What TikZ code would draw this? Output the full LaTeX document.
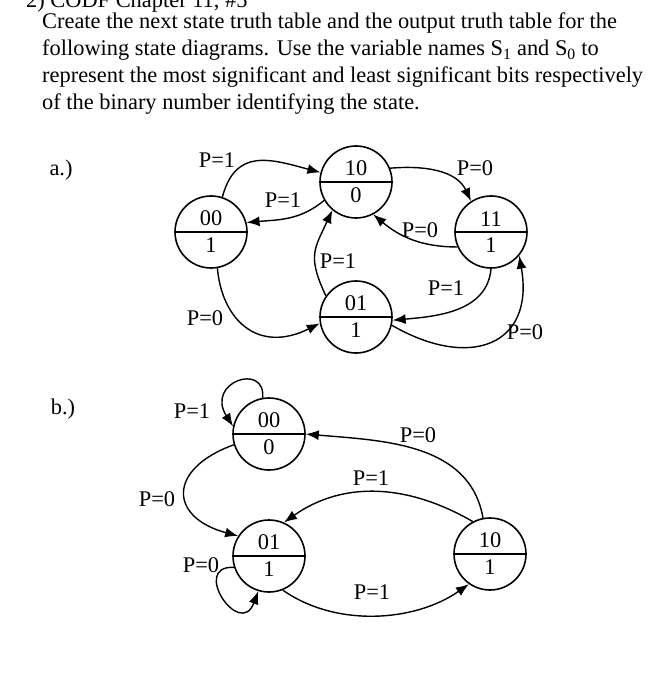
\documentclass[tikz,border=0pt]{standalone}
\usepackage{fontspec}
\setmainfont{Liberation Serif}
\usetikzlibrary{shapes.multipart,arrows.meta}

\begin{document}
\begin{tikzpicture}[x=1pt,y=1pt,font=\fontsize{22.4}{27}\selectfont,
  state/.style={circle split,draw,line width=1.6pt,minimum size=72pt,inner sep=5pt},
  trans/.style={line width=1.4pt,-{Latex[length=13pt,width=10pt]}},
  lbl/.style={inner sep=0pt}]
\fill[white] (0,0) rectangle (663,-700);
\useasboundingbox (0,0) rectangle (663,-700);

% question text
\node[lbl,anchor=base west] (hdr) at (26,-8) {2) CODF Chapter 11, \#5};
\node[lbl,anchor=base west] (l1) at (42,-29) {Create the next state truth table and the output truth table for the};
\node[lbl,anchor=base west] (l2) at (42,-56) {following state diagrams. Use the variable names S\textsubscript{1} and S\textsubscript{0} to};
\node[lbl,anchor=base west] (l3) at (42,-83) {represent the most significant and least significant bits respectively};
\node[lbl,anchor=base west] (l4) at (42,-110) {of the binary number identifying the state.};

% a.)
\node[lbl] (pa) at (61,-170) {a.)};
\node[state] (a00) at (211,-232) {00 \nodepart{lower} 1};
\node[state] (a10) at (356,-182) {10 \nodepart{lower} 0};
\node[state] (a11) at (491,-232) {11 \nodepart{lower} 1};
\node[state] (a01) at (356,-317) {01 \nodepart{lower} 1};

\draw[trans] (a00.72) to[out=75,in=165,looseness=1.3] (a10.165);
\draw[trans] (a10.210) to[out=220,in=5] (a00.15);
\draw[trans] (a00.280) .. controls (222,-320) and (258,-354) .. (a01.190);
\draw[trans] (a01.145) to[out=115,in=245,looseness=1.3] (a10.230);
\draw[trans] (a10.22) to[out=5,in=115] (a11.123);
\draw[trans] (a11.204) to[out=180,in=-40] (a10.298);
\draw[trans] (a11.270) to[out=-95,in=5] (a01.-5);
\draw[trans] (a01.-13) to[out=-30,in=-80,looseness=1.6] (a11.-40);

\node[lbl] (ta1) at (217,-160) {P=1};
\node[lbl] (ta2) at (283,-200) {P=1};
\node[lbl] (ta3) at (205,-318) {P=0};
\node[lbl] (ta4) at (338,-261) {P=1};
\node[lbl] (ta5) at (475,-168) {P=0};
\node[lbl] (ta6) at (420,-230) {P=0};
\node[lbl] (ta7) at (446,-288) {P=1};
\node[lbl] (ta8) at (525,-332) {P=0};

% b.)
\node[lbl] (pb) at (63,-409) {b.)};
\node[state] (b00) at (269,-434) {00 \nodepart{lower} 0};
\node[state] (b01) at (269,-556) {01 \nodepart{lower} 1};
\node[state] (b10) at (490,-554) {10 \nodepart{lower} 1};

\draw[trans] (b00.100) .. controls (266,-362) and (205,-382) .. (b00.168);
\draw[trans] (b00.197) to[out=200,in=165,looseness=2] (b01.147);
\draw[trans] (b01.198) .. controls (190,-565) and (240,-640) .. (b01.253);
\draw[trans] (b10.101) to[out=100,in=-5] (b00.0);
\draw[trans] (b10.118) to[out=150,in=35,looseness=1] (b01.66);
\draw[trans] (b01.-68) to[out=-35,in=215,looseness=0.9] (b10.235);

\node[lbl] (tb1) at (192,-411) {P=1};
\node[lbl] (tb2) at (157,-499) {P=0};
\node[lbl] (tb3) at (201,-565) {P=0};
\node[lbl] (tb4) at (418,-435) {P=0};
\node[lbl] (tb5) at (371,-478) {P=1};
\node[lbl] (tb6) at (372,-592) {P=1};
\end{tikzpicture}
\end{document}
